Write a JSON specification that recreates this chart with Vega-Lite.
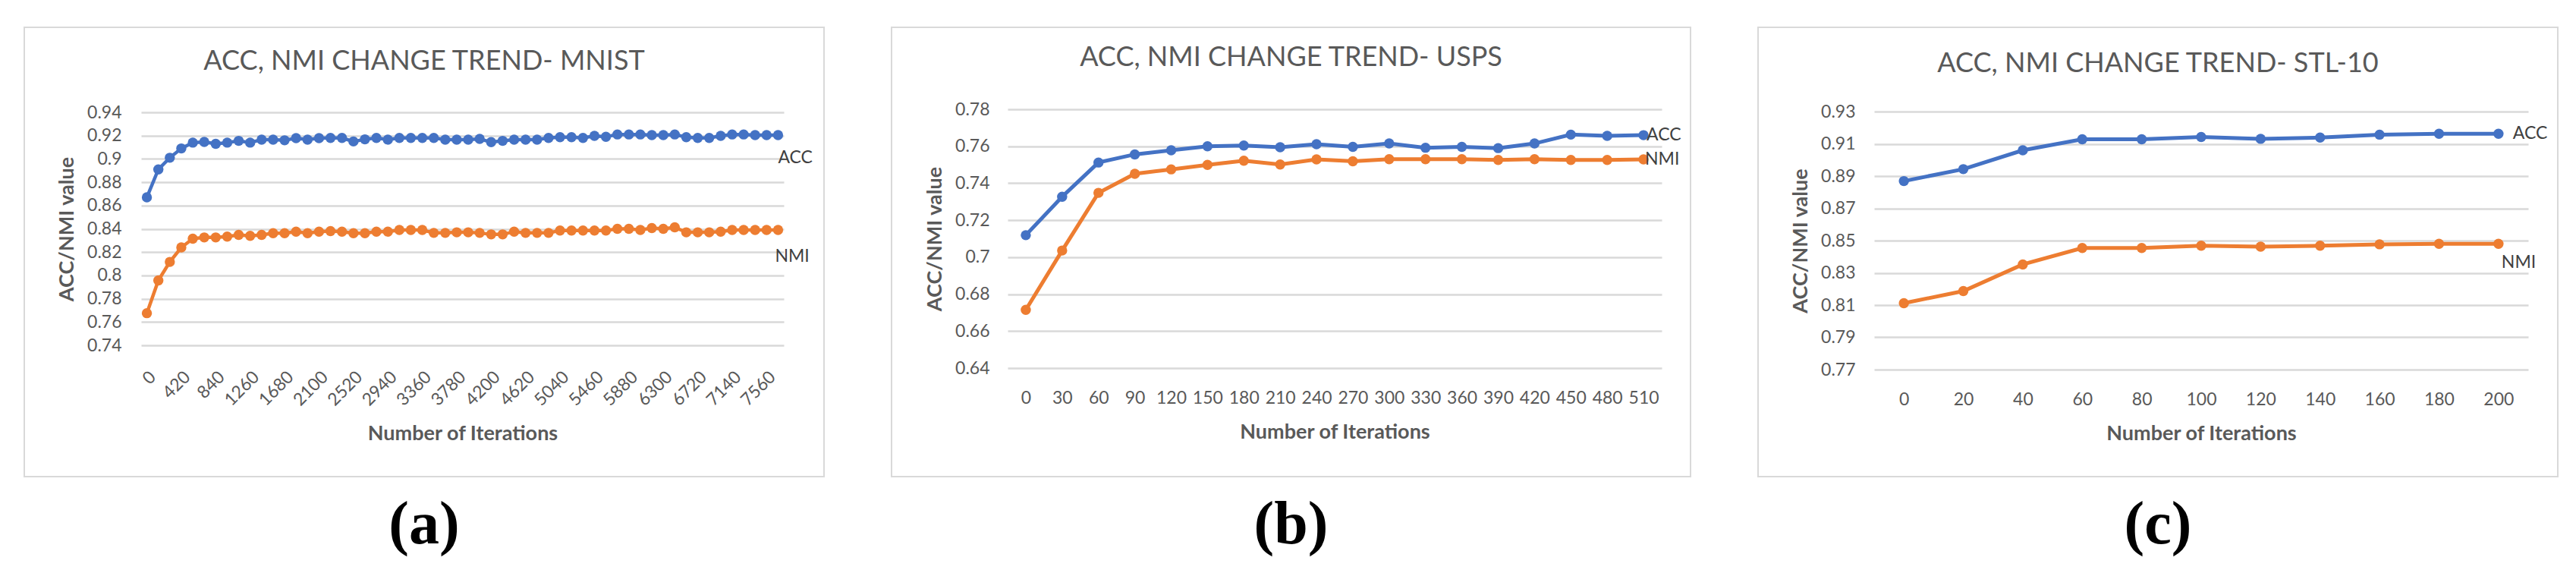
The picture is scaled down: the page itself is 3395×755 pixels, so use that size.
{
"$schema": "https://vega.github.io/schema/vega-lite/v6.json",
"background": "white",
"padding": {"left": 31, "top": 35, "right": 0, "bottom": 12},
"spacing": 87,
"config": {"view": {"stroke": "#d9d9d9", "strokeWidth": 2}, "font": "Lato"},
"datasets": {
"a": [
{"iter":0,"series":"ACC","value":0.867},{"iter":140,"series":"ACC","value":0.891},{"iter":280,"series":"ACC","value":0.901},{"iter":420,"series":"ACC","value":0.909},{"iter":560,"series":"ACC","value":0.914},{"iter":700,"series":"ACC","value":0.9146},{"iter":840,"series":"ACC","value":0.913},{"iter":980,"series":"ACC","value":0.914},{"iter":1120,"series":"ACC","value":0.9155},{"iter":1260,"series":"ACC","value":0.914},{"iter":1400,"series":"ACC","value":0.9166},{"iter":1540,"series":"ACC","value":0.9166},{"iter":1680,"series":"ACC","value":0.916},{"iter":1820,"series":"ACC","value":0.9179},{"iter":1960,"series":"ACC","value":0.9166},{"iter":2100,"series":"ACC","value":0.9179},{"iter":2240,"series":"ACC","value":0.918},{"iter":2380,"series":"ACC","value":0.918},{"iter":2520,"series":"ACC","value":0.915},{"iter":2660,"series":"ACC","value":0.9168},{"iter":2800,"series":"ACC","value":0.918},{"iter":2940,"series":"ACC","value":0.9166},{"iter":3080,"series":"ACC","value":0.918},{"iter":3220,"series":"ACC","value":0.918},{"iter":3360,"series":"ACC","value":0.918},{"iter":3500,"series":"ACC","value":0.918},{"iter":3640,"series":"ACC","value":0.9166},{"iter":3780,"series":"ACC","value":0.9166},{"iter":3920,"series":"ACC","value":0.9166},{"iter":4060,"series":"ACC","value":0.9172},{"iter":4200,"series":"ACC","value":0.9144},{"iter":4340,"series":"ACC","value":0.9155},{"iter":4480,"series":"ACC","value":0.9166},{"iter":4620,"series":"ACC","value":0.9166},{"iter":4760,"series":"ACC","value":0.9166},{"iter":4900,"series":"ACC","value":0.918},{"iter":5040,"series":"ACC","value":0.9187},{"iter":5180,"series":"ACC","value":0.9187},{"iter":5320,"series":"ACC","value":0.918},{"iter":5460,"series":"ACC","value":0.9198},{"iter":5600,"series":"ACC","value":0.919},{"iter":5740,"series":"ACC","value":0.921},{"iter":5880,"series":"ACC","value":0.921},{"iter":6020,"series":"ACC","value":0.921},{"iter":6160,"series":"ACC","value":0.9205},{"iter":6300,"series":"ACC","value":0.9205},{"iter":6440,"series":"ACC","value":0.921},{"iter":6580,"series":"ACC","value":0.9187},{"iter":6720,"series":"ACC","value":0.918},{"iter":6860,"series":"ACC","value":0.918},{"iter":7000,"series":"ACC","value":0.9198},{"iter":7140,"series":"ACC","value":0.921},{"iter":7280,"series":"ACC","value":0.921},{"iter":7420,"series":"ACC","value":0.9205},{"iter":7560,"series":"ACC","value":0.9205},{"iter":7700,"series":"ACC","value":0.9205},
{"iter":0,"series":"NMI","value":0.7676},{"iter":140,"series":"NMI","value":0.7957},{"iter":280,"series":"NMI","value":0.8116},{"iter":420,"series":"NMI","value":0.824},{"iter":560,"series":"NMI","value":0.8315},{"iter":700,"series":"NMI","value":0.8326},{"iter":840,"series":"NMI","value":0.8326},{"iter":980,"series":"NMI","value":0.8333},{"iter":1120,"series":"NMI","value":0.8348},{"iter":1260,"series":"NMI","value":0.834},{"iter":1400,"series":"NMI","value":0.8348},{"iter":1540,"series":"NMI","value":0.8363},{"iter":1680,"series":"NMI","value":0.8363},{"iter":1820,"series":"NMI","value":0.8376},{"iter":1960,"series":"NMI","value":0.8363},{"iter":2100,"series":"NMI","value":0.8376},{"iter":2240,"series":"NMI","value":0.838},{"iter":2380,"series":"NMI","value":0.8376},{"iter":2520,"series":"NMI","value":0.8363},{"iter":2660,"series":"NMI","value":0.8363},{"iter":2800,"series":"NMI","value":0.8376},{"iter":2940,"series":"NMI","value":0.8376},{"iter":3080,"series":"NMI","value":0.839},{"iter":3220,"series":"NMI","value":0.839},{"iter":3360,"series":"NMI","value":0.839},{"iter":3500,"series":"NMI","value":0.8365},{"iter":3640,"series":"NMI","value":0.8365},{"iter":3780,"series":"NMI","value":0.837},{"iter":3920,"series":"NMI","value":0.837},{"iter":4060,"series":"NMI","value":0.8365},{"iter":4200,"series":"NMI","value":0.8352},{"iter":4340,"series":"NMI","value":0.8352},{"iter":4480,"series":"NMI","value":0.8376},{"iter":4620,"series":"NMI","value":0.8365},{"iter":4760,"series":"NMI","value":0.8365},{"iter":4900,"series":"NMI","value":0.8365},{"iter":5040,"series":"NMI","value":0.8385},{"iter":5180,"series":"NMI","value":0.8385},{"iter":5320,"series":"NMI","value":0.8385},{"iter":5460,"series":"NMI","value":0.8385},{"iter":5600,"series":"NMI","value":0.8385},{"iter":5740,"series":"NMI","value":0.84},{"iter":5880,"series":"NMI","value":0.84},{"iter":6020,"series":"NMI","value":0.839},{"iter":6160,"series":"NMI","value":0.8407},{"iter":6300,"series":"NMI","value":0.84},{"iter":6440,"series":"NMI","value":0.8413},{"iter":6580,"series":"NMI","value":0.837},{"iter":6720,"series":"NMI","value":0.837},{"iter":6860,"series":"NMI","value":0.837},{"iter":7000,"series":"NMI","value":0.8376},{"iter":7140,"series":"NMI","value":0.839},{"iter":7280,"series":"NMI","value":0.839},{"iter":7420,"series":"NMI","value":0.839},{"iter":7560,"series":"NMI","value":0.839},{"iter":7700,"series":"NMI","value":0.839}
],
"b": [
{"iter":0,"series":"ACC","value":0.7119},{"iter":30,"series":"ACC","value":0.7327},{"iter":60,"series":"ACC","value":0.7512},{"iter":90,"series":"ACC","value":0.7556},{"iter":120,"series":"ACC","value":0.7578},{"iter":150,"series":"ACC","value":0.76},{"iter":180,"series":"ACC","value":0.7604},{"iter":210,"series":"ACC","value":0.7595},{"iter":240,"series":"ACC","value":0.7611},{"iter":270,"series":"ACC","value":0.7597},{"iter":300,"series":"ACC","value":0.7615},{"iter":330,"series":"ACC","value":0.7592},{"iter":360,"series":"ACC","value":0.7597},{"iter":390,"series":"ACC","value":0.759},{"iter":420,"series":"ACC","value":0.7615},{"iter":450,"series":"ACC","value":0.7663},{"iter":480,"series":"ACC","value":0.7656},{"iter":510,"series":"ACC","value":0.766},
{"iter":0,"series":"NMI","value":0.6715},{"iter":30,"series":"NMI","value":0.7036},{"iter":60,"series":"NMI","value":0.7348},{"iter":90,"series":"NMI","value":0.7451},{"iter":120,"series":"NMI","value":0.7475},{"iter":150,"series":"NMI","value":0.7499},{"iter":180,"series":"NMI","value":0.7522},{"iter":210,"series":"NMI","value":0.7501},{"iter":240,"series":"NMI","value":0.7529},{"iter":270,"series":"NMI","value":0.7519},{"iter":300,"series":"NMI","value":0.753},{"iter":330,"series":"NMI","value":0.753},{"iter":360,"series":"NMI","value":0.753},{"iter":390,"series":"NMI","value":0.7526},{"iter":420,"series":"NMI","value":0.753},{"iter":450,"series":"NMI","value":0.7526},{"iter":480,"series":"NMI","value":0.7526},{"iter":510,"series":"NMI","value":0.7529}
],
"c": [
{"iter":0,"series":"ACC","value":0.8869},{"iter":20,"series":"ACC","value":0.8943},{"iter":40,"series":"ACC","value":0.906},{"iter":60,"series":"ACC","value":0.9128},{"iter":80,"series":"ACC","value":0.9128},{"iter":100,"series":"ACC","value":0.9142},{"iter":120,"series":"ACC","value":0.9131},{"iter":140,"series":"ACC","value":0.9139},{"iter":160,"series":"ACC","value":0.9157},{"iter":180,"series":"ACC","value":0.9162},{"iter":200,"series":"ACC","value":0.9162},
{"iter":0,"series":"NMI","value":0.8112},{"iter":20,"series":"NMI","value":0.8187},{"iter":40,"series":"NMI","value":0.8352},{"iter":60,"series":"NMI","value":0.8454},{"iter":80,"series":"NMI","value":0.8454},{"iter":100,"series":"NMI","value":0.8468},{"iter":120,"series":"NMI","value":0.8462},{"iter":140,"series":"NMI","value":0.8468},{"iter":160,"series":"NMI","value":0.8477},{"iter":180,"series":"NMI","value":0.848},{"iter":200,"series":"NMI","value":0.848}
]
},
"hconcat": [
{
"title": {"text": "(a)", "orient": "bottom", "anchor": "middle", "font": "Liberation Serif", "fontSize": 80, "fontWeight": "bold", "color": "black", "offset": 24, "baseline": "top"},
"vconcat": [{
"width": 1054, "height": 592,
"data": {"name": "a"},
"title": {"text": "ACC, NMI CHANGE TREND- MNIST", "anchor": "middle", "font": "Lato", "fontSize": 36, "fontWeight": "normal", "color": "#595959", "offset": -92, "baseline": "alphabetic"},
"encoding": {
"x": {"field": "iter", "type": "ordinal", "scale": {"type": "point", "range": [154, 1001], "padding": 0.5},
"axis": {"values": [0,420,840,1260,1680,2100,2520,2940,3360,3780,4200,4620,5040,5460,5880,6300,6720,7140,7560], "labelAngle": -45, "offset": -173, "domain": false, "ticks": false, "grid": false, "labelFont": "Lato", "labelFontSize": 23, "labelColor": "#595959", "labelPadding": 30, "title": "Number of Iterations", "titleFont": "Lato", "titleFontSize": 27, "titleFontWeight": "bold", "titleColor": "#595959", "titlePadding": 20}},
"y": {"field": "value", "type": "quantitative", "scale": {"domain": [0.74, 0.94], "range": [419, 112], "zero": false, "nice": false},
"axis": {"values": [0.74,0.76,0.78,0.8,0.82,0.84,0.86,0.88,0.9,0.92,0.94], "format": ".2~f", "offset": -154, "domain": false, "ticks": false, "grid": true, "gridColor": "#d9d9d9", "gridWidth": 2.5, "labelFont": "Lato", "labelFontSize": 23, "labelColor": "#595959", "labelPadding": 26, "title": "ACC/NMI value", "titleFont": "Lato", "titleFontSize": 27, "titleFontWeight": "bold", "titleColor": "#595959", "titlePadding": 12}},
"color": {"field": "series", "type": "nominal", "scale": {"domain": ["ACC", "NMI"], "range": ["#4472C4", "#ED7D31"]}, "legend": null}
},
"layer": [
{"mark": {"type": "line", "strokeWidth": 4.5}},
{"mark": {"type": "point", "filled": true, "opacity": 1, "size": 180}},
{"transform": [{"filter": "datum.series == 'ACC' && datum.iter == 7700"}], "mark": {"type": "text", "align": "left", "baseline": "middle", "dx": 0, "dy": 30, "font": "Lato", "fontSize": 23}, "encoding": {"text": {"field": "series"}, "color": {"value": "#404040"}}},
{"transform": [{"filter": "datum.series == 'NMI' && datum.iter == 7700"}], "mark": {"type": "text", "align": "left", "baseline": "middle", "dx": -4, "dy": 35, "font": "Lato", "fontSize": 23}, "encoding": {"text": {"field": "series"}, "color": {"value": "#404040"}}}
]
}]
},
{
"title": {"text": "(b)", "orient": "bottom", "anchor": "middle", "font": "Liberation Serif", "fontSize": 80, "fontWeight": "bold", "color": "black", "offset": 24, "baseline": "top"},
"vconcat": [{
"width": 1053, "height": 592,
"data": {"name": "b"},
"title": {"text": "ACC, NMI CHANGE TREND- USPS", "anchor": "middle", "font": "Lato", "fontSize": 36, "fontWeight": "normal", "color": "#595959", "offset": -87, "baseline": "alphabetic"},
"encoding": {
"x": {"field": "iter", "type": "ordinal", "scale": {"type": "point", "range": [153, 1015], "padding": 0.5},
"axis": {"labelAngle": 0, "offset": -143, "domain": false, "ticks": false, "grid": false, "labelFont": "Lato", "labelFontSize": 23, "labelColor": "#595959", "labelPadding": 28, "title": "Number of Iterations", "titleFont": "Lato", "titleFontSize": 27, "titleFontWeight": "bold", "titleColor": "#595959", "titlePadding": 20}},
"y": {"field": "value", "type": "quantitative", "scale": {"domain": [0.64, 0.78], "range": [449, 108], "zero": false, "nice": false},
"axis": {"values": [0.64,0.66,0.68,0.7,0.72,0.74,0.76,0.78], "format": ".2~f", "offset": -153, "domain": false, "ticks": false, "grid": true, "gridColor": "#d9d9d9", "gridWidth": 2.5, "labelFont": "Lato", "labelFontSize": 23, "labelColor": "#595959", "labelPadding": 24, "title": "ACC/NMI value", "titleFont": "Lato", "titleFontSize": 27, "titleFontWeight": "bold", "titleColor": "#595959", "titlePadding": 12}},
"color": {"field": "series", "type": "nominal", "scale": {"domain": ["ACC", "NMI"], "range": ["#4472C4", "#ED7D31"]}, "legend": null}
},
"layer": [
{"mark": {"type": "line", "strokeWidth": 5}},
{"mark": {"type": "point", "filled": true, "opacity": 1, "size": 180}},
{"transform": [{"filter": "datum.series == 'ACC' && datum.iter == 510"}], "mark": {"type": "text", "align": "left", "baseline": "middle", "dx": 4, "dy": 0, "font": "Lato", "fontSize": 23}, "encoding": {"text": {"field": "series"}, "color": {"value": "#404040"}}},
{"transform": [{"filter": "datum.series == 'NMI' && datum.iter == 510"}], "mark": {"type": "text", "align": "left", "baseline": "middle", "dx": 2, "dy": 0, "font": "Lato", "fontSize": 23}, "encoding": {"text": {"field": "series"}, "color": {"value": "#404040"}}}
]
}]
},
{
"title": {"text": "(c)", "orient": "bottom", "anchor": "middle", "font": "Liberation Serif", "fontSize": 80, "fontWeight": "bold", "color": "black", "offset": 24, "baseline": "top"},
"vconcat": [{
"width": 1054, "height": 592,
"data": {"name": "c"},
"title": {"text": "ACC, NMI CHANGE TREND- STL-10", "anchor": "middle", "font": "Lato", "fontSize": 36, "fontWeight": "normal", "color": "#595959", "offset": -95, "baseline": "alphabetic"},
"encoding": {
"x": {"field": "iter", "type": "ordinal", "scale": {"type": "point", "range": [153, 1015], "padding": 0.5},
"axis": {"labelAngle": 0, "offset": -141, "domain": false, "ticks": false, "grid": false, "labelFont": "Lato", "labelFontSize": 23, "labelColor": "#595959", "labelPadding": 28, "title": "Number of Iterations", "titleFont": "Lato", "titleFontSize": 27, "titleFontWeight": "bold", "titleColor": "#595959", "titlePadding": 20}},
"y": {"field": "value", "type": "quantitative", "scale": {"domain": [0.77, 0.93], "range": [451, 111], "zero": false, "nice": false},
"axis": {"values": [0.77,0.79,0.81,0.83,0.85,0.87,0.89,0.91,0.93], "format": ".2f", "offset": -153, "domain": false, "ticks": false, "grid": true, "gridColor": "#d9d9d9", "gridWidth": 2.5, "labelFont": "Lato", "labelFontSize": 23, "labelColor": "#595959", "labelPadding": 25, "title": "ACC/NMI value", "titleFont": "Lato", "titleFontSize": 27, "titleFontWeight": "bold", "titleColor": "#595959", "titlePadding": 12}},
"color": {"field": "series", "type": "nominal", "scale": {"domain": ["ACC", "NMI"], "range": ["#4472C4", "#ED7D31"]}, "legend": null}
},
"layer": [
{"mark": {"type": "line", "strokeWidth": 5}},
{"mark": {"type": "point", "filled": true, "opacity": 1, "size": 180}},
{"transform": [{"filter": "datum.series == 'ACC' && datum.iter == 200"}], "mark": {"type": "text", "align": "left", "baseline": "middle", "dx": 19, "dy": 0, "font": "Lato", "fontSize": 23}, "encoding": {"text": {"field": "series"}, "color": {"value": "#404040"}}},
{"transform": [{"filter": "datum.series == 'NMI' && datum.iter == 200"}], "mark": {"type": "text", "align": "left", "baseline": "middle", "dx": 4, "dy": 25, "font": "Lato", "fontSize": 23}, "encoding": {"text": {"field": "series"}, "color": {"value": "#404040"}}}
]
}]
}
]
}
